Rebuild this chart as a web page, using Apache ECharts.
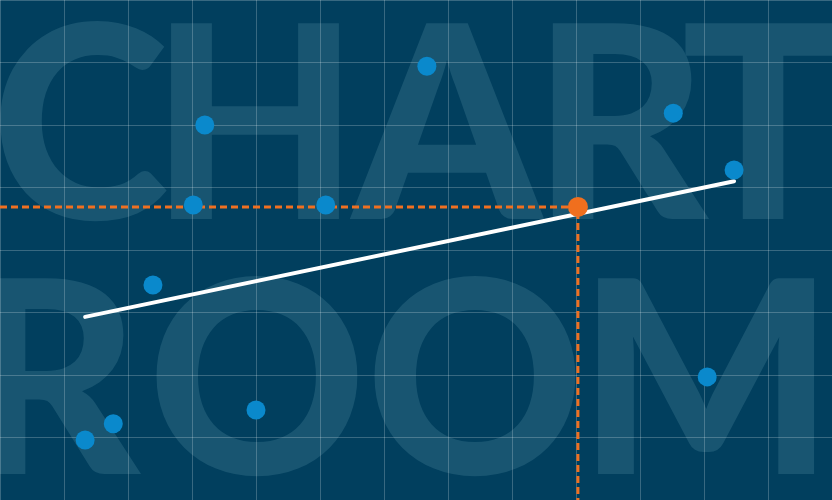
<!DOCTYPE html>
<html>
<head>
<meta charset="utf-8">
<script src="https://cdn.jsdelivr.net/npm/echarts@6/dist/echarts.min.js"></script>
<style>
html,body{margin:0;padding:0;background:#013f5e;}
#chart{width:832px;height:500px;}
</style>
</head>
<body>
<div id="chart"></div>
<script>
// Data
var pointX = [1.33, 1.77, 2.39, 3.02, 3.20, 4.00, 5.09, 6.67, 10.52, 11.05, 11.47];
var pointY = [0.96, 1.22, 3.44, 4.72, 6.00, 1.44, 4.72, 6.94, 6.19, 1.97, 5.28];
var highlightX = [9.03];
var highlightY = [4.69];
var trendX = [1.33, 11.47];
var trendY = [2.93, 5.10];
var watermarkTop = ['C', 'H', 'A', 'R', 'T'];
var watermarkBottom = ['R', 'O', 'O', 'M'];

var topCenters = [80, 255, 447, 620, 763];
var bottomCenters = [52, 257, 475, 706];

function zip(xs, ys) { return xs.map(function (x, i) { return [x, ys[i]]; }); }

var graphics = [];
watermarkTop.forEach(function (ch, i) {
  graphics.push({
    type: 'text', z: -10, x: topCenters[i], y: 132,
    style: { text: ch, fill: '#185571', fontFamily: 'Lato', fontWeight: 900, fontSize: 270, align: 'center', verticalAlign: 'middle' }
  });
});
watermarkBottom.forEach(function (ch, i) {
  graphics.push({
    type: 'text', z: -10, x: bottomCenters[i], y: 387,
    style: { text: ch, fill: '#185571', fontFamily: 'Lato', fontWeight: 900, fontSize: 270, align: 'center', verticalAlign: 'middle' }
  });
});

var chart = echarts.init(document.getElementById('chart'), null, { renderer: 'canvas' });
var hx = highlightX[0], hy = highlightY[0];
chart.setOption({
  backgroundColor: '#013f5e',
  animation: false,
  graphic: graphics,
  grid: { left: 0, right: 0, top: 0, bottom: 0, containLabel: false },
  xAxis: {
    type: 'value', min: 0, max: 13, interval: 1,
    axisLine: { show: false }, axisTick: { show: false }, axisLabel: { show: false },
    splitLine: { show: true, lineStyle: { color: 'rgba(255,255,255,0.22)', width: 1 } }
  },
  yAxis: {
    type: 'value', min: 0, max: 8, interval: 1,
    axisLine: { show: false }, axisTick: { show: false }, axisLabel: { show: false },
    splitLine: { show: true, lineStyle: { color: 'rgba(255,255,255,0.22)', width: 1 } }
  },
  series: [
    {
      type: 'line', z: 2, symbol: 'none', silent: true,
      data: [[0, hy], [hx, hy], [hx, 0]],
      lineStyle: { color: '#f07021', width: 3, type: [7, 4] }
    },
    {
      type: 'line', z: 3, symbol: 'none', silent: true,
      data: zip(trendX, trendY),
      lineStyle: { color: '#ffffff', width: 4, cap: 'round' }
    },
    {
      type: 'scatter', z: 4, symbolSize: 19,
      data: zip(pointX, pointY),
      itemStyle: { color: '#0a89cc', opacity: 1 }
    },
    {
      type: 'scatter', z: 5, symbolSize: 20,
      data: zip(highlightX, highlightY),
      itemStyle: { color: '#f06f1e', opacity: 1 }
    }
  ]
});
</script>
</body>
</html>
